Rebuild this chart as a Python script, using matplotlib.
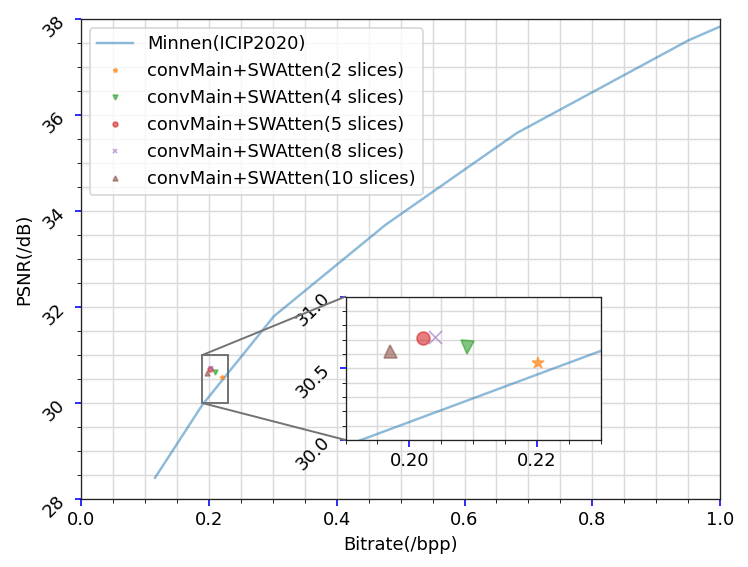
import numpy as np
import matplotlib
matplotlib.use("Agg")
import matplotlib.pyplot as plt
from matplotlib.ticker import MultipleLocator, FormatStrFormatter
from mpl_toolkits.axes_grid1.inset_locator import mark_inset

# Minnen (ICIP2020) rate-distortion curve
minnen_bpp = [0.116, 0.19, 0.302, 0.476, 0.682, 0.95, 1.0]
minnen_psnr = [28.44, 29.96, 31.81, 33.71, 35.63, 37.56, 37.85]

# convMain + SWAtten results
slice_labels = ["2 slices", "4 slices", "5 slices", "8 slices", "10 slices"]
slice_bpp = [0.2201, 0.2091, 0.2021, 0.2041, 0.1970]
slice_psnr = [30.54, 30.65, 30.71, 30.72, 30.62]
slice_markers = ["*", "v", "o", "x", "^"]
slice_colors = ["tab:orange", "tab:green", "tab:red", "tab:purple", "tab:brown"]

DPI = 117
plt.rcParams["font.size"] = 11
fig = plt.figure(figsize=(748 / DPI, 567 / DPI), dpi=DPI)
ax = fig.add_axes([0.108, 0.12, 0.855, 0.846])


def _style(a, xmaj, xmin, ymaj, ymin):
    a.xaxis.set_major_locator(MultipleLocator(xmaj))
    a.xaxis.set_minor_locator(MultipleLocator(xmin))
    a.yaxis.set_major_locator(MultipleLocator(ymaj))
    a.yaxis.set_minor_locator(MultipleLocator(ymin))
    a.grid(which="both", color="#dadada", linewidth=0.9)
    a.set_axisbelow(True)
    a.tick_params(which="major", color="blue", length=4, width=1.0)
    a.tick_params(which="minor", color="#222222", length=2.5)
    for s in a.spines.values():
        s.set_color("#222222")


ax.plot(minnen_bpp, minnen_psnr, color="tab:blue", alpha=0.5, label="Minnen(ICIP2020)")
for lab, b, p, m, c in zip(slice_labels, slice_bpp, slice_psnr, slice_markers, slice_colors):
    ax.plot([b], [p], marker=m, color=c, alpha=0.6, markersize=3, linestyle="none",
            label="convMain+SWAtten(%s)" % lab)
ax.set_xlim(0.0, 1.0)
ax.set_ylim(28, 38)
_style(ax, 0.2, 0.05, 2, 0.5)
for lbl in ax.get_yticklabels():
    lbl.set_rotation(45)
ax.set_xlabel("Bitrate(/bpp)")
ax.set_ylabel("PSNR(/dB)")
ax.legend(loc="upper left")

# zoomed inset
axins = fig.add_axes([0.462, 0.224, 0.341, 0.253])
axins.plot(minnen_bpp, minnen_psnr, color="tab:blue", alpha=0.5)
for b, p, m, c in zip(slice_bpp, slice_psnr, slice_markers, slice_colors):
    axins.plot([b], [p], marker=m, color=c, alpha=0.6, markersize=8, linestyle="none")
axins.set_xlim(0.19, 0.23)
axins.set_ylim(30.0, 31.0)
_style(axins, 0.02, 0.005, 0.5, 0.1)
axins.xaxis.set_major_formatter(FormatStrFormatter("%.2f"))
axins.yaxis.set_major_formatter(FormatStrFormatter("%.1f"))
for lbl in axins.get_yticklabels():
    lbl.set_rotation(45)
mark_inset(ax, axins, loc1=2, loc2=3, fc="none", ec="0.45", linewidth=1.2)

plt.savefig("out.png", dpi=DPI)
